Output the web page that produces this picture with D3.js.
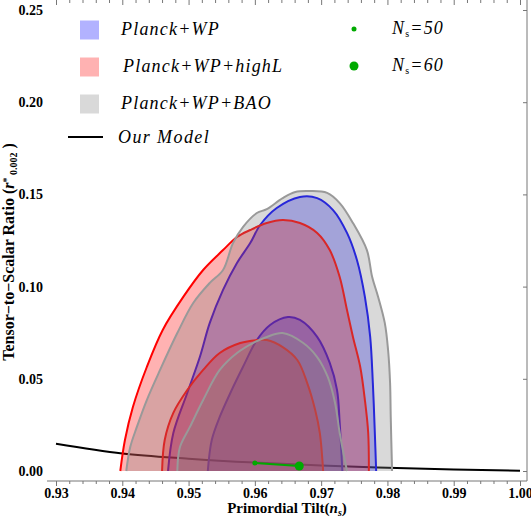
<!DOCTYPE html>
<html lang="en">
<head>
	<meta charset="UTF-8">
	<script src="https://d3js.org/d3.v7.min.js"></script>
	<title>Tensor-to-scalar ratio vs primordial tilt</title>
	<style>
		body{ margin:0; background:#fff; }
		svg text{ font-family:"Liberation Serif","DejaVu Serif",serif; }
		.tick text{ font-size:14px; font-weight:bold; fill:#000; }
		.tick line{ stroke:#777; }
		.legend_text{ font-size:18px; font-style:italic; letter-spacing:1.2px; }
		.contour{ fill:none; stroke-width:2px; }
	</style>
</head>
<body>
<script>
	const width = 531, height = 521;

	// axis ticks
	const xTicks = [0.93, 0.94, 0.95, 0.96, 0.97, 0.98, 0.99, 1.00];
	const yTicks = [0.00, 0.05, 0.10, 0.15, 0.20, 0.25];

	// our model curve (ns, r)
	const modelNs = [0.93, 0.94, 0.95, 0.96, 0.97, 0.98, 0.99, 1.00];
	const modelR  = [0.0148, 0.0095, 0.0067, 0.0046, 0.0030, 0.0018, 0.0008, 0.0001];

	// N = 50 and N = 60 points
	const efoldNs = [0.9600, 0.9667];
	const efoldR  = [0.0043, 0.0027];

	// Planck+WP, 95% and 68%
	const wp95 = [[0.9469,0],[0.9477,0.0206],[0.9498,0.0423],[0.9517,0.0618],[0.9532,0.0803],
		[0.9552,0.0982],[0.9573,0.1128],[0.9593,0.1236],[0.9608,0.1334],[0.9633,0.1426],
		[0.9668,0.1486],[0.9694,0.1480],[0.9718,0.1415],[0.9739,0.1291],[0.9754,0.1144],
		[0.9766,0.0944],[0.9774,0.0727],[0.9778,0.0477],[0.9781,0.0206],[0.9783,0]];
	const wp68 = [[0.9529,0],[0.9535,0.0168],[0.9547,0.0293],[0.9563,0.0423],[0.9582,0.0564],
		[0.9603,0.0710],[0.9623,0.0792],[0.9650,0.0835],[0.9668,0.0819],[0.9694,0.0727],
		[0.9713,0.0586],[0.9724,0.0439],[0.9728,0.0260],[0.9732,0]];

	// Planck+WP+highL
	const hl95 = [[0.9397,0],[0.9404,0.0168],[0.9416,0.0347],[0.9437,0.0564],[0.9461,0.0765],
		[0.9492,0.0944],[0.9522,0.1090],[0.9552,0.1198],[0.9573,0.1269],[0.9593,0.1307],
		[0.9618,0.1345],[0.9642,0.1361],[0.9668,0.1345],[0.9694,0.1291],[0.9713,0.1198],
		[0.9728,0.1052],[0.9739,0.0873],[0.9748,0.0727],[0.9759,0.0564],[0.9766,0.0385],
		[0.9771,0.0206],[0.9772,0]];
	const hl68 = [[0.9460,0],[0.9464,0.0168],[0.9477,0.0315],[0.9498,0.0439],[0.9522,0.0548],
		[0.9547,0.0640],[0.9578,0.0694],[0.9603,0.0710],[0.9618,0.0710],[0.9642,0.0672],
		[0.9664,0.0602],[0.9679,0.0477],[0.9691,0.0331],[0.9698,0.0206],[0.9703,0]];

	// Planck+WP+BAO
	const bao95 = [[0.9406,0],[0.9412,0.0130],[0.9422,0.0239],[0.9437,0.0385],[0.9457,0.0548],
		[0.9483,0.0748],[0.9507,0.0911],[0.9532,0.1020],[0.9552,0.1090],[0.9567,0.1236],
		[0.9582,0.1323],[0.9603,0.1399],[0.9618,0.1420],[0.9642,0.1480],[0.9661,0.1513],
		[0.9683,0.1518],[0.9709,0.1508],[0.9728,0.1453],[0.9748,0.1345],[0.9769,0.1198],
		[0.9777,0.1052],[0.9786,0.0944],[0.9796,0.0803],[0.9801,0.0656],[0.9804,0.0477],
		[0.9805,0.0293],[0.9807,0]];
	const bao68 = [[0.9483,0],[0.9487,0.0130],[0.9502,0.0239],[0.9522,0.0385],[0.9547,0.0548],
		[0.9573,0.0640],[0.9597,0.0694],[0.9618,0.0727],[0.9642,0.0748],[0.9673,0.0694],
		[0.9694,0.0618],[0.9710,0.0510],[0.9721,0.0369],[0.9728,0.0206],[0.9739,0]];

	const svg = d3.select("body").append("svg")
		.attr("width", width)
		.attr("height", height);

	const x = d3.scaleLinear().domain([0.93, 1.00]).range([56, 520]);
	const y = d3.scaleLinear().domain([0, 0.25]).range([471, 10]);
	const frameLeft = 47, frameRight = 527, frameBottom = 481;

	const minorX = d3.range(0, 36).map(function (i){ return 0.93 + i*0.002; })
		.filter(function (v){ return Math.round(v*1000) % 10 !== 0; });

	// frame
	svg.append("line").attr("x1", frameLeft).attr("x2", frameRight)
		.attr("y1", frameBottom).attr("y2", frameBottom).attr("stroke", "#777");
	svg.append("line").attr("x1", frameRight).attr("x2", frameRight)
		.attr("y1", 0).attr("y2", frameBottom).attr("stroke", "#777");

	// bottom axis
	svg.append("g").attr("transform", "translate(0," + frameBottom + ")")
		.call(d3.axisBottom(x).tickValues(xTicks).tickSize(5).tickPadding(2).tickFormat(d3.format(".2f")))
		.call(function (g){ g.select(".domain").remove(); });
	svg.append("g").attr("transform", "translate(0," + frameBottom + ")")
		.call(d3.axisBottom(x).tickValues(minorX).tickSize(3).tickFormat(""))
		.call(function (g){ g.select(".domain").remove(); });
	// top ticks
	svg.append("g").attr("transform", "translate(0,0)")
		.call(d3.axisBottom(x).tickValues(xTicks).tickSize(5).tickFormat(""))
		.call(function (g){ g.select(".domain").remove(); });
	svg.append("g").attr("transform", "translate(0,0)")
		.call(d3.axisBottom(x).tickValues(minorX).tickSize(3).tickFormat(""))
		.call(function (g){ g.select(".domain").remove(); });
	// left labels
	svg.append("g").attr("transform", "translate(" + frameLeft + ",0)")
		.call(d3.axisLeft(y).tickValues(yTicks).tickSize(0).tickPadding(4).tickFormat(d3.format(".2f")))
		.call(function (g){ g.select(".domain").remove(); });
	// right ticks
	svg.append("g").attr("transform", "translate(" + frameRight + ",0)")
		.call(d3.axisRight(y).tickValues(yTicks).tickSize(-4).tickFormat(""))
		.call(function (g){ g.select(".domain").remove(); });

	// model line (drawn under the regions)
	const modelLine = d3.line()
		.x(function (d){ return x(d[0]); })
		.y(function (d){ return y(d[1]); })
		.curve(d3.curveMonotoneX);
	svg.append("path")
		.attr("d", modelLine(modelNs.map(function (v, i){ return [v, modelR[i]]; })))
		.attr("fill", "none").attr("stroke", "#000").attr("stroke-width", 2);

	// confidence regions
	const contourLine = d3.line()
		.x(function (d){ return x(d[0]); })
		.y(function (d){ return y(d[1]); })
		.curve(d3.curveCatmullRom.alpha(0.5));

	const regions = [
		{pts: wp95, fill: "#0000ff", line: "#0000ff"},
		{pts: wp68, fill: "#0000ff", line: "#0000ff"},
		{pts: hl95, fill: "#ff0000", line: "#ff0000"},
		{pts: hl68, fill: "#ff0000", line: "#ff0000"},
		{pts: bao95, fill: "#808080", line: "#999999"},
		{pts: bao68, fill: "#808080", line: "#999999"}
	];
	regions.forEach(function (c){
		svg.append("path")
			.attr("d", contourLine(c.pts) + "Z")
			.attr("fill", c.fill)
			.attr("fill-opacity", 0.3)
			.attr("stroke", "none");
		svg.append("path")
			.attr("class", "contour")
			.attr("d", contourLine(c.pts))
			.attr("stroke", c.line);
	});

	// N = 50 .. 60 segment
	const green = "#00aa00";
	svg.append("line")
		.attr("x1", x(efoldNs[0])).attr("y1", y(efoldR[0]))
		.attr("x2", x(efoldNs[1])).attr("y2", y(efoldR[1]))
		.attr("stroke", green).attr("stroke-width", 2);
	svg.selectAll(".efold")
		.data(efoldNs)
		.enter()
		.append("circle")
		.attr("class", "efold")
		.attr("cx", function (d){ return x(d); })
		.attr("cy", function (d, i){ return y(efoldR[i]); })
		.attr("r", function (d, i){ return i === 0 ? 2.5 : 4.5; })
		.attr("fill", green);

	// legend
	const legendNames = ["Planck+WP", "Planck+WP+highL", "Planck+WP+BAO"];
	const legendFills = ["#0000ff", "#ff0000", "#808080"];
	const legendY = [30, 67, 104];
	legendNames.forEach(function (name, i){
		svg.append("rect")
			.attr("x", 80).attr("y", legendY[i] - 9.5)
			.attr("width", 19).attr("height", 19)
			.attr("fill", legendFills[i]).attr("fill-opacity", 0.3);
		svg.append("text")
			.attr("class", "legend_text")
			.attr("x", i === 1 ? 123 : 121).attr("y", legendY[i] + 5)
			.text(name);
	});
	svg.append("line")
		.attr("x1", 68).attr("x2", 103).attr("y1", 137).attr("y2", 137)
		.attr("stroke", "#000").attr("stroke-width", 2);
	svg.append("text").attr("class", "legend_text")
		.attr("x", 118).attr("y", 143)
		.style("letter-spacing", "1.4px")
		.text("Our Model");

	const nLabels = ["50", "60"];
	const nY = [29, 66];
	nLabels.forEach(function (n, i){
		svg.append("circle").attr("cx", 354).attr("cy", nY[i])
			.attr("r", i === 0 ? 2.5 : 4.5).attr("fill", green);
		const t = svg.append("text").attr("class", "legend_text")
			.attr("x", 392).attr("y", nY[i] + 5);
		t.append("tspan").text("N");
		t.append("tspan").attr("dy", 3).attr("font-size", 10).style("font-style", "normal").text("s");
		t.append("tspan").attr("dy", -3).text("=" + n);
	});

	// axis titles
	const xt = svg.append("text")
		.attr("x", 287).attr("y", 513)
		.attr("text-anchor", "middle")
		.style("font-size", "15px").style("font-weight", "bold");
	xt.append("tspan").text("Primordial Tilt(");
	xt.append("tspan").style("font-style", "italic").text("n");
	xt.append("tspan").attr("dy", 3).style("font-size", "10px").style("font-style", "italic").text("s");
	xt.append("tspan").attr("dy", -3).text(")");

	const yt = svg.append("text")
		.attr("transform", "translate(14,252) rotate(-90)")
		.attr("text-anchor", "middle")
		.style("font-size", "16px").style("font-weight", "bold");
	yt.append("tspan").text("Tensor\u2212to\u2212Scalar Ratio (");
	yt.append("tspan").style("font-style", "italic").text("r");
	yt.append("tspan").attr("dy", -4).style("font-size", "10px").text("*");
	yt.append("tspan").attr("dy", 7).style("font-size", "10px").text(" 0.002");
	yt.append("tspan").attr("dy", -3).text(" )");
</script>
</body>
</html>
